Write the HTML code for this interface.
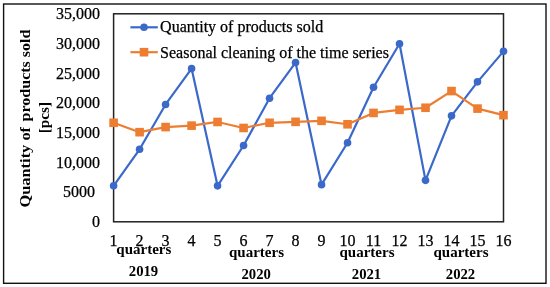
<!DOCTYPE html>
<html><head><meta charset="utf-8"><title>Chart</title>
<style>
html,body{margin:0;padding:0;background:#fff;}
svg{display:block;}
text{font-family:"Liberation Serif","Times New Roman",serif;fill:#000;stroke:#000;stroke-width:0.25px;}
.b{font-weight:bold;stroke-width:0;}
</style></head><body>
<svg width="550" height="287" viewBox="0 0 550 287">
<rect x="3.6" y="4" width="542.4" height="279.3" fill="none" stroke="#111" stroke-width="1.4"/>
<rect x="113.6" y="13.8" width="389.90" height="208.00" fill="none" stroke="#222" stroke-width="1.5"/>
<text x="99.9" y="227.10" font-size="16" text-anchor="end">0</text>
<text x="95" y="197.39" font-size="16" text-anchor="end">5000</text>
<text x="99.9" y="167.67" font-size="16" text-anchor="end">10,000</text>
<text x="99.9" y="137.96" font-size="16" text-anchor="end">15,000</text>
<text x="99.9" y="108.24" font-size="16" text-anchor="end">20,000</text>
<text x="99.9" y="78.53" font-size="16" text-anchor="end">25,000</text>
<text x="99.9" y="48.81" font-size="16" text-anchor="end">30,000</text>
<text x="99.9" y="19.10" font-size="16" text-anchor="end">35,000</text>
<text x="113.60" y="245.9" font-size="16" text-anchor="middle">1</text>
<text x="139.59" y="245.9" font-size="16" text-anchor="middle">2</text>
<text x="165.59" y="245.9" font-size="16" text-anchor="middle">3</text>
<text x="191.58" y="245.9" font-size="16" text-anchor="middle">4</text>
<text x="217.57" y="245.9" font-size="16" text-anchor="middle">5</text>
<text x="243.57" y="245.9" font-size="16" text-anchor="middle">6</text>
<text x="269.56" y="245.9" font-size="16" text-anchor="middle">7</text>
<text x="295.55" y="245.9" font-size="16" text-anchor="middle">8</text>
<text x="321.55" y="245.9" font-size="16" text-anchor="middle">9</text>
<text x="347.54" y="245.9" font-size="16" text-anchor="middle">10</text>
<text x="373.53" y="245.9" font-size="16" text-anchor="middle">11</text>
<text x="399.53" y="245.9" font-size="16" text-anchor="middle">12</text>
<text x="425.52" y="245.9" font-size="16" text-anchor="middle">13</text>
<text x="451.51" y="245.9" font-size="16" text-anchor="middle">14</text>
<text x="477.51" y="245.9" font-size="16" text-anchor="middle">15</text>
<text x="503.50" y="245.9" font-size="16" text-anchor="middle">16</text>
<text class="b" x="143.8" y="254.3" font-size="15.3" text-anchor="middle" textLength="55" lengthAdjust="spacingAndGlyphs">quarters</text>
<text class="b" x="143.5" y="276.4" font-size="14.7" text-anchor="middle">2019</text>
<text class="b" x="256.5" y="256.9" font-size="15.3" text-anchor="middle" textLength="55" lengthAdjust="spacingAndGlyphs">quarters</text>
<text class="b" x="256.2" y="278.5" font-size="14.7" text-anchor="middle">2020</text>
<text class="b" x="367" y="256.9" font-size="15.3" text-anchor="middle" textLength="55" lengthAdjust="spacingAndGlyphs">quarters</text>
<text class="b" x="366.5" y="278.5" font-size="14.7" text-anchor="middle">2021</text>
<text class="b" x="461" y="256.9" font-size="15.3" text-anchor="middle" textLength="55" lengthAdjust="spacingAndGlyphs">quarters</text>
<text class="b" x="460.5" y="278.5" font-size="14.7" text-anchor="middle">2022</text>
<text class="b" transform="translate(30.2,207.6) rotate(-90)" font-size="15" textLength="80.7" lengthAdjust="spacingAndGlyphs">Quantity of</text>
<text class="b" transform="translate(30.2,121.4) rotate(-90)" font-size="15" textLength="91.8" lengthAdjust="spacingAndGlyphs">products sold</text>
<text class="b" transform="translate(48.6,117.6) rotate(-90)" font-size="15" text-anchor="middle" textLength="31.3" lengthAdjust="spacingAndGlyphs">[pcs]</text>
<polyline points="113.60,185.85 139.59,149.30 165.59,104.43 191.58,68.59 217.57,185.85 243.57,145.49 269.56,98.19 295.55,62.53 321.55,184.66 347.54,142.76 373.53,87.19 399.53,43.75 425.52,180.34 451.51,115.84 477.51,81.85 503.50,51.36" fill="none" stroke="#3B69CA" stroke-width="2.2" stroke-linejoin="round"/>
<circle cx="113.60" cy="185.85" r="3.8" fill="#3B69CA"/>
<circle cx="139.59" cy="149.30" r="3.8" fill="#3B69CA"/>
<circle cx="165.59" cy="104.43" r="3.8" fill="#3B69CA"/>
<circle cx="191.58" cy="68.59" r="3.8" fill="#3B69CA"/>
<circle cx="217.57" cy="185.85" r="3.8" fill="#3B69CA"/>
<circle cx="243.57" cy="145.49" r="3.8" fill="#3B69CA"/>
<circle cx="269.56" cy="98.19" r="3.8" fill="#3B69CA"/>
<circle cx="295.55" cy="62.53" r="3.8" fill="#3B69CA"/>
<circle cx="321.55" cy="184.66" r="3.8" fill="#3B69CA"/>
<circle cx="347.54" cy="142.76" r="3.8" fill="#3B69CA"/>
<circle cx="373.53" cy="87.19" r="3.8" fill="#3B69CA"/>
<circle cx="399.53" cy="43.75" r="3.8" fill="#3B69CA"/>
<circle cx="425.52" cy="180.34" r="3.8" fill="#3B69CA"/>
<circle cx="451.51" cy="115.84" r="3.8" fill="#3B69CA"/>
<circle cx="477.51" cy="81.85" r="3.8" fill="#3B69CA"/>
<circle cx="503.50" cy="51.36" r="3.8" fill="#3B69CA"/>
<polyline points="113.60,122.76 139.59,132.18 165.59,127.07 191.58,125.64 217.57,121.96 243.57,127.96 269.56,122.79 295.55,121.84 321.55,120.83 347.54,124.28 373.53,112.93 399.53,109.84 425.52,107.76 451.51,91.06 477.51,108.59 503.50,115.19" fill="none" stroke="#ED7D31" stroke-width="2.2" stroke-linejoin="round"/>
<rect x="109.30" y="118.46" width="8.6" height="8.6" fill="#ED7D31"/>
<rect x="135.29" y="127.88" width="8.6" height="8.6" fill="#ED7D31"/>
<rect x="161.29" y="122.77" width="8.6" height="8.6" fill="#ED7D31"/>
<rect x="187.28" y="121.34" width="8.6" height="8.6" fill="#ED7D31"/>
<rect x="213.27" y="117.66" width="8.6" height="8.6" fill="#ED7D31"/>
<rect x="239.27" y="123.66" width="8.6" height="8.6" fill="#ED7D31"/>
<rect x="265.26" y="118.49" width="8.6" height="8.6" fill="#ED7D31"/>
<rect x="291.25" y="117.54" width="8.6" height="8.6" fill="#ED7D31"/>
<rect x="317.25" y="116.53" width="8.6" height="8.6" fill="#ED7D31"/>
<rect x="343.24" y="119.98" width="8.6" height="8.6" fill="#ED7D31"/>
<rect x="369.23" y="108.63" width="8.6" height="8.6" fill="#ED7D31"/>
<rect x="395.23" y="105.54" width="8.6" height="8.6" fill="#ED7D31"/>
<rect x="421.22" y="103.46" width="8.6" height="8.6" fill="#ED7D31"/>
<rect x="447.21" y="86.76" width="8.6" height="8.6" fill="#ED7D31"/>
<rect x="473.21" y="104.29" width="8.6" height="8.6" fill="#ED7D31"/>
<rect x="499.20" y="110.89" width="8.6" height="8.6" fill="#ED7D31"/>
<line x1="130.4" y1="27.3" x2="157.8" y2="27.3" stroke="#3B69CA" stroke-width="2.2"/>
<circle cx="144" cy="27.3" r="3.8" fill="#3B69CA"/>
<text x="160.1" y="32.4" font-size="16">Quantity of products sold</text>
<line x1="130.4" y1="52.2" x2="157.8" y2="52.2" stroke="#ED7D31" stroke-width="2.2"/>
<rect x="139.7" y="47.9" width="8.6" height="8.6" fill="#ED7D31"/>
<text x="160.1" y="57.6" font-size="16">Seasonal cleaning of the time series</text>
</svg>
</body></html>
